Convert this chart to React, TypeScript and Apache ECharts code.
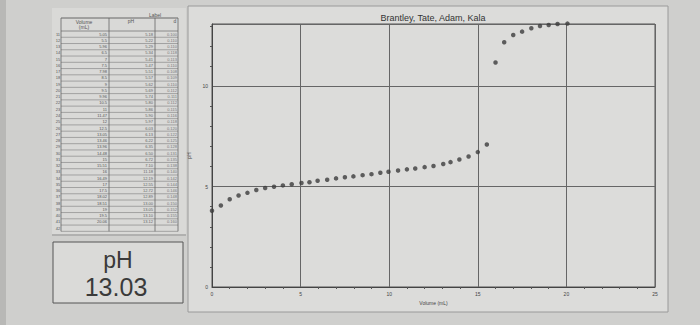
import React, { useEffect, useRef } from "react";
import * as echarts from "echarts";

const volume = [0, 0.5, 1, 1.5, 2, 2.5, 3, 3.5, 4, 4.5, 5.05, 5.5, 5.96, 6.5, 7, 7.5, 7.98, 8.5, 9, 9.5, 9.96, 10.5, 11, 11.47, 12, 12.5, 13.05, 13.46, 13.96, 14.48, 15, 15.51, 16, 16.49, 17, 17.5, 18.02, 18.51, 19, 19.5, 20.06];
const pH = [3.8, 4.06, 4.37, 4.56, 4.69, 4.83, 4.93, 4.99, 5.06, 5.12, 5.18, 5.22, 5.29, 5.34, 5.41, 5.47, 5.51, 5.57, 5.62, 5.69, 5.74, 5.8, 5.86, 5.9, 5.97, 6.03, 6.13, 6.22, 6.35, 6.5, 6.72, 7.1, 11.18, 12.19, 12.55, 12.72, 12.89, 13.0, 13.05, 13.1, 13.12];
const thirdCol = ["0.100", "0.110", "0.110", "0.118", "0.113", "0.110", "0.108", "0.109", "0.110", "0.112", "0.111", "0.112", "0.115", "0.116", "0.118", "0.120", "0.122", "0.125", "0.128", "0.131", "0.135", "0.138", "0.140", "0.142", "0.144", "0.146", "0.148", "0.150", "0.152", "0.155", "0.160"];
const firstRowNumber = 11;
const firstTableIndex = 10;
const xTicks = [0, 5, 10, 15, 20, 25];
const yTicks = [0, 5, 10];
const chartTitle = "Brantley, Tate, Adam, Kala";
const readoutLabel = "pH";
const readoutValue = "13.03";

export default function App() {
  const ref = useRef<HTMLDivElement>(null);
  useEffect(() => {
    if (!ref.current) return;
    const chart = echarts.init(ref.current, null, { renderer: "svg" });
    const font = "Liberation Sans";
    const tableEls: any[] = [];
    const rowH = 6.26;
    const top0 = 31;
    const rows = volume.length - firstTableIndex + 1;
    tableEls.push({ type: "rect", z: -10, shape: { x: 52, y: 8, width: 134, height: 228 }, style: { fill: "#d9d9d7" } });
    tableEls.push({ type: "line", shape: { x1: 61, y1: 18, x2: 178, y2: 18 }, style: { stroke: "#666", lineWidth: 1 } });
    tableEls.push({ type: "line", shape: { x1: 61, y1: top0, x2: 178, y2: top0 }, style: { stroke: "#777", lineWidth: 0.8 } });
    tableEls.push({ type: "text", x: 155, y: 15, style: { text: "Label", fontSize: 5, fill: "#555", align: "center", verticalAlign: "middle", fontFamily: font } });
    tableEls.push({ type: "text", x: 84, y: 22, style: { text: "Volume", fontSize: 5, fill: "#555", align: "center", verticalAlign: "middle", fontFamily: font } });
    tableEls.push({ type: "text", x: 84, y: 27, style: { text: "(mL)", fontSize: 5, fill: "#555", align: "center", verticalAlign: "middle", fontFamily: font } });
    tableEls.push({ type: "text", x: 131, y: 21, style: { text: "pH", fontSize: 5, fill: "#555", align: "center", verticalAlign: "middle", fontFamily: font } });
    tableEls.push({ type: "text", x: 175, y: 21, style: { text: "d", fontSize: 5, fill: "#555", align: "center", verticalAlign: "middle", fontFamily: font } });
    for (let i = 0; i < rows; i++) {
      const y = top0 + i * rowH;
      tableEls.push({ type: "line", shape: { x1: 61, y1: y + rowH, x2: 178, y2: y + rowH }, style: { stroke: "#8a8a8a", lineWidth: 0.7 } });
      tableEls.push({ type: "text", x: 58, y: y + rowH / 2, style: { text: String(firstRowNumber + i), fontSize: 4, fill: "#555", align: "center", verticalAlign: "middle", fontFamily: font } });
      const k = firstTableIndex + i;
      if (k < volume.length) {
        tableEls.push({ type: "text", x: 107, y: y + rowH / 2, style: { text: String(volume[k]), fontSize: 4, fill: "#555", align: "right", verticalAlign: "middle", fontFamily: font } });
        tableEls.push({ type: "text", x: 153, y: y + rowH / 2, style: { text: pH[k].toFixed(2), fontSize: 4, fill: "#666", align: "right", verticalAlign: "middle", fontFamily: font } });
        tableEls.push({ type: "text", x: 177, y: y + rowH / 2, style: { text: thirdCol[i] || "", fontSize: 4, fill: "#777", align: "right", verticalAlign: "middle", fontFamily: font } });
      }
    }
    const tableBottom = top0 + rows * rowH;
    [61, 109, 155, 178].forEach((x) => {
      tableEls.push({ type: "line", shape: { x1: x, y1: 18, x2: x, y2: tableBottom }, style: { stroke: "#666", lineWidth: 0.8 } });
    });
    tableEls.push({ type: "line", shape: { x1: 52, y1: 235, x2: 186, y2: 235 }, style: { stroke: "#888", lineWidth: 1 } });

    chart.setOption({
      animation: false,
      backgroundColor: "#cfcfcd",
      title: {
        text: chartTitle,
        left: 433,
        top: 13,
        padding: 0,
        textAlign: "center",
        textStyle: { fontSize: 9, fontWeight: "normal", color: "#333", fontFamily: font },
      },
      grid: { left: 212, right: 45, top: 24, bottom: 38, show: true, borderColor: "#555", borderWidth: 1 },
      xAxis: {
        type: "value",
        min: 0,
        max: 25,
        interval: 5,
        name: "Volume (mL)",
        nameLocation: "middle",
        nameGap: 13,
        nameTextStyle: { fontSize: 5, color: "#444", fontFamily: font },
        axisLine: { lineStyle: { color: "#444" } },
        axisTick: { show: false },
        minorTick: { show: true, splitNumber: 5, length: 2, lineStyle: { color: "#555" } },
        axisLabel: { fontSize: 5, color: "#444", margin: 4, fontFamily: font, formatter: (v: number) => (xTicks.includes(v) ? String(v) : "") },
        splitLine: { show: true, lineStyle: { color: "#666", width: 1 } },
      },
      yAxis: {
        type: "value",
        min: 0,
        max: 13.1,
        interval: 5,
        name: "pH",
        nameLocation: "middle",
        nameGap: 14,
        nameTextStyle: { fontSize: 5, color: "#444", fontFamily: font },
        axisLine: { show: true, lineStyle: { color: "#444" } },
        axisTick: { show: false },
        minorTick: { show: true, splitNumber: 5, length: 2, lineStyle: { color: "#555" } },
        axisLabel: { fontSize: 5, color: "#444", margin: 4, fontFamily: font, formatter: (v: number) => (yTicks.includes(v) ? String(v) : "") },
        splitLine: { show: true, lineStyle: { color: "#666", width: 1 } },
      },
      series: [
        {
          type: "scatter",
          data: volume.map((v, i) => [v, pH[i]]),
          symbol: "circle",
          symbolSize: 4.5,
          itemStyle: { color: "#3c3c3c" },
          clip: false,
        },
      ],
      graphic: [
        { type: "rect", z: -20, shape: { x: 188, y: 6, width: 480, height: 306 }, style: { fill: "#dcdcda", stroke: "#9a9a9a", lineWidth: 1 } },
        { type: "rect", z: -20, shape: { x: 0, y: 0, width: 6, height: 325 }, style: { fill: "#b8b8b6" } },
        ...tableEls,
        { type: "rect", shape: { x: 53, y: 242, width: 130, height: 61 }, style: { fill: "#dadad8", stroke: "#555", lineWidth: 1 } },
        { type: "text", x: 118, y: 260, style: { text: readoutLabel, fontSize: 23, fill: "#3a3a3a", align: "center", verticalAlign: "middle", fontFamily: font } },
        { type: "text", x: 116, y: 287, style: { text: readoutValue, fontSize: 25, fill: "#3a3a3a", align: "center", verticalAlign: "middle", fontFamily: font } },
      ],
    });
    return () => chart.dispose();
  }, []);
  return <div ref={ref} style={{ position: "fixed", left: 0, top: 0, width: 700, height: 325 }} />;
}
